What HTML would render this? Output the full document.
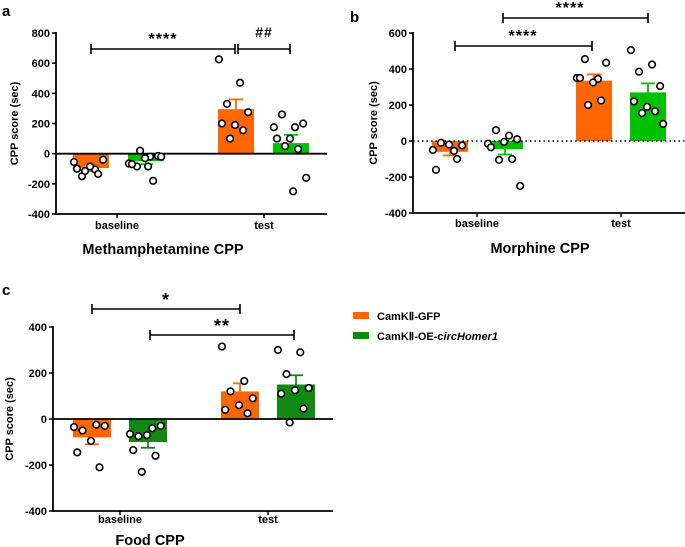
<!DOCTYPE html>
<html><head><meta charset="utf-8"><style>
body{margin:0;background:#fff;}
svg{display:block;font-family:"Liberation Sans",Arial,sans-serif;}
</style></head><body>
<svg id="fig" width="685" height="547" viewBox="0 0 685 547"></svg>
<script>
const categories = ["baseline","test"];
const groups = ["CamKII-GFP","CamKII-OE-circHomer1"];
// Panel a: Methamphetamine CPP
const aMeans = [[-95,-50],[295,70]];
const aErr = [[-115,-70],[360,125]];
const aPoints = [
 [[-55,-105,-150,-40,-85,-100,-135,-115],[-65,-20,-85,-15,-30,-70,-180,20,-20,-85]],
 [[625,470,330,275,190,200,155,100],[175,175,260,200,100,100,30,50,-160,-250]]
];
const aTicks = [-400,-200,0,200,400,600,800];
// Panel b: Morphine CPP
const bMeans = [[-60,-45],[335,270]];
const bErr = [[-80,-75],[370,320]];
const bPoints = [
 [[-50,-55,-10,-25,-20,-160,-100],[-15,30,60,10,-5,-35,-100,-105,-250]],
 [[350,345,455,435,325,350,225,200],[505,425,385,305,190,220,165,155,95]]
];
const bTicks = [-400,-200,0,200,400,600];
// Panel c: Food CPP
const cMeans = [[-80,-100],[120,150]];
const cErr = [[-110,-125],[155,190]];
const cPoints = [
 [[-35,-25,-50,-30,-95,-145,-210],[-65,-40,-75,-30,-70,-135,-160,-230]],
 [[315,165,120,90,60,40,25],[300,290,195,135,125,110,45,-15]]
];
const cTicks = [-400,-200,0,200,400];

const NS="http://www.w3.org/2000/svg";
const svg=document.getElementById('fig');
function mk(tag,attrs,parent,name){const e=document.createElementNS(NS,tag);for(const k in attrs)e.setAttribute(k,attrs[k]);
 
 
 (parent||svg).appendChild(e);return e;}
function txt(s,x,y,attrs,name){const t=mk('text',Object.assign({x:x,y:y},attrs),svg,name);t.textContent=s;return t;}

function panel(cfg){
 const g=mk('g',{},svg,cfg.id+'-panel');
 const y=v=>cfg.y0+(v-cfg.ymin)/(cfg.ymax-cfg.ymin)*(cfg.y1-cfg.y0);
 cfg.means.forEach((pair,ci)=>{pair.forEach((m,gi)=>{
  const bx=cfg.barX[ci][gi], bw=cfg.barW;
  const top=Math.min(y(m),y(0)), h=Math.abs(y(m)-y(0));
  mk('rect',{x:bx,y:top,width:bw,height:h,fill:cfg.colors[gi]},g,'bar-'+categories[ci]+'-'+(gi?'oe':'gfp'));
  const ey=y(cfg.err[ci][gi]);
  mk('line',{x1:bx+bw/2,x2:bx+bw/2,y1:y(m),y2:ey,stroke:cfg.colors[gi],'stroke-width':1.8},g,'error-bar');
  mk('line',{x1:bx+bw/2-7,x2:bx+bw/2+7,y1:ey,y2:ey,stroke:cfg.colors[gi],'stroke-width':1.8},g,'error-cap');
 });});
 if(cfg.dotted) mk('line',{x1:cfg.ax,x2:cfg.axEnd,y1:y(0),y2:y(0),stroke:'#000','stroke-width':1.5,'stroke-dasharray':'1.5,3'},g,'zero-line');
 else mk('line',{x1:cfg.ax,x2:cfg.axEnd,y1:y(0),y2:y(0),stroke:'#000','stroke-width':1.8},g,'zero-line');
 cfg.points.forEach((pair,ci)=>{pair.forEach((arr,gi)=>{
  const cx=cfg.barX[ci][gi]+cfg.barW/2;
  arr.forEach((v,i)=>{const off=(((i*0.618)%1)-0.5)*cfg.barW*0.95;
   mk('circle',{cx:cx+off,cy:y(v),r:3.3,fill:'#fff',stroke:'#000','stroke-width':1.6},g,'data-point');});
 });});
 mk('line',{x1:cfg.ax,x2:cfg.ax,y1:y(cfg.ymax)-1,y2:y(cfg.ymin)+1,stroke:'#000','stroke-width':1.8},g,'y-axis');
 mk('line',{x1:cfg.ax,x2:cfg.axEnd,y1:y(cfg.ymin),y2:y(cfg.ymin),stroke:'#000','stroke-width':1.8},g,'x-axis');
 cfg.ticks.forEach(t=>{mk('line',{x1:cfg.ax-4,x2:cfg.ax,y1:y(t),y2:y(t),stroke:'#000','stroke-width':1.5},g,'y-tick');
  txt(String(t),cfg.ax-6,y(t)+4,{'text-anchor':'end','font-size':11,'font-weight':'bold'},'y-tick-label');});
 categories.forEach((c,ci)=>{const tx=cfg.tickX[ci];
  mk('line',{x1:tx,x2:tx,y1:y(cfg.ymin),y2:y(cfg.ymin)+4,stroke:'#000','stroke-width':1.5},g,'x-tick');
  txt(c,tx,cfg.catY,{'text-anchor':'middle','font-size':11,'font-weight':'bold'},'x-tick-label');});
 txt('CPP score (sec)',0,0,{'text-anchor':'middle','font-size':11,'font-weight':'bold',transform:`translate(${cfg.ylabX},${(y(cfg.ymax)+y(cfg.ymin))/2}) rotate(-90)`},'y-axis-title');
 txt(cfg.title,cfg.titleX,cfg.titleY,{'text-anchor':'middle','font-size':14.5,'font-weight':'bold'},'chart-title');
 txt(cfg.id,cfg.letterX,cfg.letterY,{'font-size':15,'font-weight':'bold'},'panel-letter');
 cfg.sig.forEach(s=>{
  mk('line',{x1:s[0],x2:s[1],y1:s[2],y2:s[2],stroke:'#000','stroke-width':1.6},g,'significance-bracket');
  mk('line',{x1:s[0],x2:s[0],y1:s[2]-5,y2:s[2]+5,stroke:'#000','stroke-width':1.6},g,'bracket-end');
  mk('line',{x1:s[1],x2:s[1],y1:s[2]-5,y2:s[2]+5,stroke:'#000','stroke-width':1.6},g,'bracket-end');
  txt(s[3],s[4],s[5],{'text-anchor':'middle','font-size':s[6],'font-weight':'bold','letter-spacing':1},'significance-label');
 });
}
panel({id:'a',means:aMeans,err:aErr,points:aPoints,ticks:aTicks,ymin:-400,ymax:800,y0:214,y1:33,ax:56,axEnd:327,
 barX:[[73,128],[218,273]],barW:36,colors:['#ff6600','#00c000'],tickX:[117,264],catY:229,ylabX:18,
 title:'Methamphetamine CPP',titleX:163,titleY:254,letterX:2,letterY:16,
 sig:[[91,235,49,'****',163,44,16],[238,290,49,'##',264,37,14]]});
panel({id:'b',means:bMeans,err:bErr,points:bPoints,ticks:bTicks,ymin:-400,ymax:600,y0:213,y1:33,ax:413,axEnd:685,dotted:true,
 barX:[[432,487],[576,630]],barW:36,colors:['#ff6600','#00c000'],tickX:[477,621],catY:227,ylabX:377,
 title:'Morphine CPP',titleX:540,titleY:253,letterX:350,letterY:22,
 sig:[[455,592,46,'****',523,41,16],[503,648,18,'****',570,13,16]]});
panel({id:'c',means:cMeans,err:cErr,points:cPoints,ticks:cTicks,ymin:-400,ymax:400,y0:511,y1:327,ax:53,axEnd:333,
 barX:[[73,129],[221,277]],barW:38,colors:['#ff6600','#118811'],tickX:[120,268],catY:523,ylabX:13,
 title:'Food CPP',titleX:150,titleY:545,letterX:2,letterY:295,
 sig:[[92,240,309,'*',166,306,18],[150,294,335,'**',222,332,18]]});
mk('rect',{x:353,y:312,width:16,height:7,fill:'#ff6600'},svg,'legend-swatch-gfp');
txt('CamKⅡ-GFP',377,320,{'font-size':11,'font-weight':'bold'},'legend-label-gfp');
mk('rect',{x:353,y:332,width:16,height:7,fill:'#118811'},svg,'legend-swatch-oe');
const lt=txt('CamKⅡ-OE-',377,340,{'font-size':11,'font-weight':'bold'},'legend-label-oe');
const ts=document.createElementNS(NS,'tspan');ts.setAttribute('font-style','italic');ts.textContent='circHomer1';lt.appendChild(ts);
</script>
</body></html>
